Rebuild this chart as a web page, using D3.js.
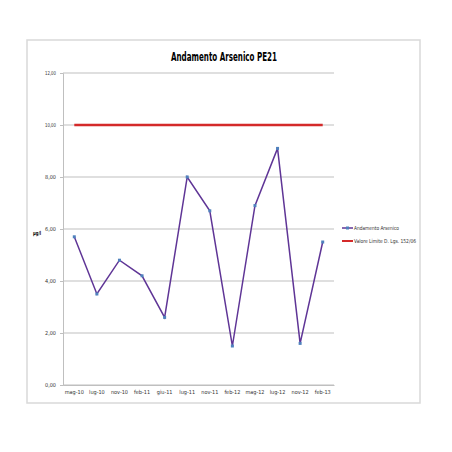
<!DOCTYPE html>
<html><head><meta charset="utf-8">
<script src="https://cdn.jsdelivr.net/npm/d3@7"></script>
<style>body{margin:0;background:#fff}svg{display:block}</style>
</head><body><svg id="c" width="452" height="452"></svg>
<script>
const categories = ["mag-10","lug-10","nov-10","feb-11","giu-11","lug-11","nov-11","feb-12","mag-12","lug-12","nov-12","feb-13"];
const arsenico = [5.7,3.5,4.8,4.2,2.6,8.0,6.7,1.5,6.9,9.1,1.6,5.5];
const limite = [10,10,10,10,10,10,10,10,10,10,10,10];
const yTicks = [0,2,4,6,8,10,12];
const seriesNames = ["Andamento Arsenico","Valore Limite D. Lgs. 152/06"];

const svg = d3.select("#c");
const font = "'DejaVu Sans Condensed','Liberation Sans Narrow',sans-serif";
svg.append("rect").attr("x",27).attr("y",40).attr("width",393).attr("height",363)
  .attr("fill","#fff").attr("stroke","#d9d9d9").attr("stroke-width",1.5);

const x = d3.scaleBand().domain(categories).range([63,334]);
const y = d3.scaleLinear().domain([0,12]).range([385,73]);
const cx = d => x(d) + x.bandwidth()/2;

const g = svg.append("g");
g.selectAll(".grid").data(yTicks).enter().append("line")
  .attr("x1",63).attr("x2",334).attr("y1",d=>y(d)).attr("y2",d=>y(d))
  .attr("stroke","#bfbfbf").attr("stroke-width",1);
const ya = d3.axisLeft(y).tickValues(yTicks).tickSize(3).tickPadding(4).tickFormat(d=>d3.format(".2f")(d).replace(".",","));
svg.append("g").attr("transform","translate(63,0)").call(ya)
  .call(s=>{s.select(".domain").attr("stroke","#bfbfbf");s.selectAll(".tick line").attr("stroke","#bfbfbf");
    s.selectAll("text").attr("font-family",font).attr("font-size",5.5).attr("fill","#333")
      .attr("textLength",11).attr("lengthAdjust","spacingAndGlyphs");});
const xa = d3.axisBottom(x).tickSize(0).tickPadding(5);
svg.append("g").attr("transform","translate(0,385)").call(xa)
  .call(s=>{s.select(".domain").attr("stroke","#bfbfbf");
    s.selectAll("text").attr("font-family",font).attr("font-size",5.5).attr("fill","#333");});

g.append("path").datum(limite)
  .attr("d",d3.line().x((d,i)=>cx(categories[i])).y(d=>y(d)))
  .attr("fill","none").attr("stroke","#d42a2a").attr("stroke-width",2.5);
g.append("path").datum(arsenico)
  .attr("d",d3.line().x((d,i)=>cx(categories[i])).y(d=>y(d)))
  .attr("fill","none").attr("stroke","#5f3596").attr("stroke-width",1.5);
g.selectAll(".m").data(arsenico).enter().append("rect")
  .attr("x",(d,i)=>cx(categories[i])-1.5).attr("y",d=>y(d)-1.5)
  .attr("width",3).attr("height",3).attr("fill","#4f81bd");

svg.append("text").attr("x",224).attr("y",61).attr("text-anchor","middle")
  .attr("font-family",font).attr("font-weight","bold").attr("font-size",13).attr("fill","#000")
  .attr("textLength",106).attr("lengthAdjust","spacingAndGlyphs")
  .text("Andamento Arsenico PE21");
svg.append("text").attr("x",37).attr("y",235).attr("text-anchor","middle")
  .attr("font-family",font).attr("font-weight","bold").attr("font-size",5.5).attr("fill","#000")
  .attr("textLength",8).attr("lengthAdjust","spacingAndGlyphs")
  .text("µg/l");
const lg = svg.append("g");
const legW = [45,62];
[0,1].forEach(i=>{
  const ly = 228 + i*13;
  lg.append("line").attr("x1",342).attr("x2",353).attr("y1",ly).attr("y2",ly)
    .attr("stroke", i===0?"#5f3596":"#d42a2a").attr("stroke-width", i===0?1.5:2);
  if(i===0) lg.append("rect").attr("x",346).attr("y",ly-1.5).attr("width",3).attr("height",3).attr("fill","#4f81bd");
  lg.append("text").attr("x",354).attr("y",ly+2).attr("font-family",font).attr("font-size",5.5).attr("fill","#333")
    .attr("textLength",legW[i]).attr("lengthAdjust","spacingAndGlyphs")
    .text(seriesNames[i]);
});
</script></body></html>
